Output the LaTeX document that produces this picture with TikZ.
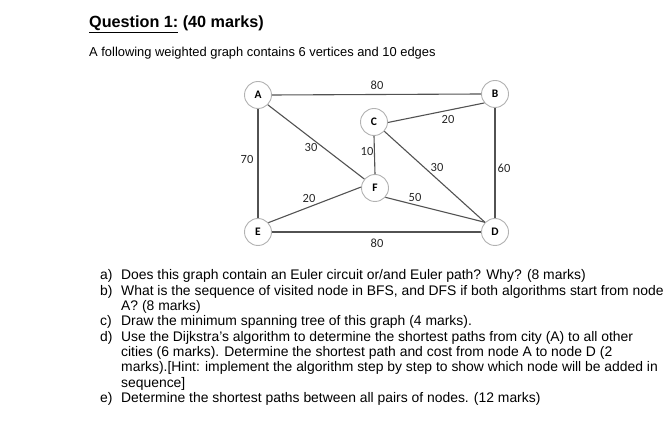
\documentclass[tikz,border=0pt]{standalone}
\usepackage{fontspec}
\setmainfont{Liberation Sans}
\newfontfamily\graphfont{Carlito}
\begin{document}
\begin{tikzpicture}[x=1pt,y=-1pt,
  vert/.style={circle,draw=gray!60,line width=0.9pt,fill=white,minimum size=27pt,inner sep=0pt,font=\graphfont\bfseries\fontsize{11.5}{12}\selectfont},
  edge/.style={draw=black!68,line width=1.1pt},
  wt/.style={font=\graphfont\fontsize{12.5}{14}\selectfont,inner sep=0pt,text=black!85},
  txt/.style={anchor=base west,inner sep=0pt,font=\fontsize{13.9}{16}\selectfont},
  lbl/.style={anchor=base west,inner sep=0pt,font=\fontsize{13.9}{16}\selectfont}]
\useasboundingbox (0,0) rectangle (670,438);
\node[anchor=base west,inner sep=0pt,font=\bfseries\fontsize{16.2}{18}\selectfont] (title) at (89,28) {\underline{Question 1:} (40 marks)};
\node[anchor=base west,inner sep=0pt,font=\fontsize{12.9}{14}\selectfont] (intro) at (89,57) {A following weighted graph contains 6 vertices and 10 edges};
% graph
\node[vert] (A) at (258,95) {A};
\node[vert] (B) at (495,94) {B};
\node[vert] (C) at (374,122) {C};
\node[vert] (F) at (375,188) {F};
\node[vert] (E) at (258,232) {E};
\node[vert] (D) at (495,232) {D};
\draw[edge] (A.east) -- (B.west);
\draw[edge] (A.south) -- (E.north);
\draw[edge] (A.-45) -- (F.140);
\draw[edge] (C.-2) -- (B.-140);
\draw[edge] (B.south) -- (D.north);
\draw[edge] (C.south) -- (F.north);
\draw[edge] (C.-42) -- (D.136);
\draw[edge] (E.42) -- (F.176);
\draw[edge] (F.-42) -- (D.136);
\draw[edge] (E.east) -- (D.west);
\node[wt] (w1) at (377,85) {80};
\node[wt] (w2) at (448,119) {20};
\node[wt] (w3) at (311,147) {30};
\node[wt] (w4) at (367,151) {10};
\node[wt] (w5) at (247,159) {70};
\node[wt] (w6) at (437,167) {30};
\node[wt] (w7) at (504,168) {60};
\node[wt] (w8) at (309,198) {20};
\node[wt] (w9) at (415,197) {50};
\node[wt] (w10) at (377,243) {80};
% questions
\node[lbl] (la) at (100,280) {a)};
\node[txt] (ta) at (121,280) {Does this graph contain an Euler circuit or/and Euler path? Why? (8 marks)};
\node[lbl] (lb) at (100,295.3) {b)};
\node[txt] (tb) at (121,295.3) {What is the sequence of visited node in BFS, and DFS if both algorithms start from node};
\node[txt] (tb2) at (121,310.6) {A? (8 marks)};
\node[lbl] (lc) at (100,325.9) {c)};
\node[txt] (tc) at (121,325.9) {Draw the minimum spanning tree of this graph (4 marks).};
\node[lbl] (ld) at (100,341.2) {d)};
\node[txt] (td) at (121,341.2) {Use the Dijkstra's algorithm to determine the shortest paths from city (A) to all other};
\node[txt] (td2) at (121,356.5) {cities (6 marks). Determine the shortest path and cost from node A to node D (2};
\node[txt] (td3) at (121,371.8) {marks).[Hint: implement the algorithm step by step to show which node will be added in};
\node[txt] (td4) at (121,387.1) {sequence]};
\node[lbl] (le) at (100,402.4) {e)};
\node[txt] (te) at (121,402.4) {Determine the shortest paths between all pairs of nodes. (12 marks)};
\end{tikzpicture}
\end{document}
